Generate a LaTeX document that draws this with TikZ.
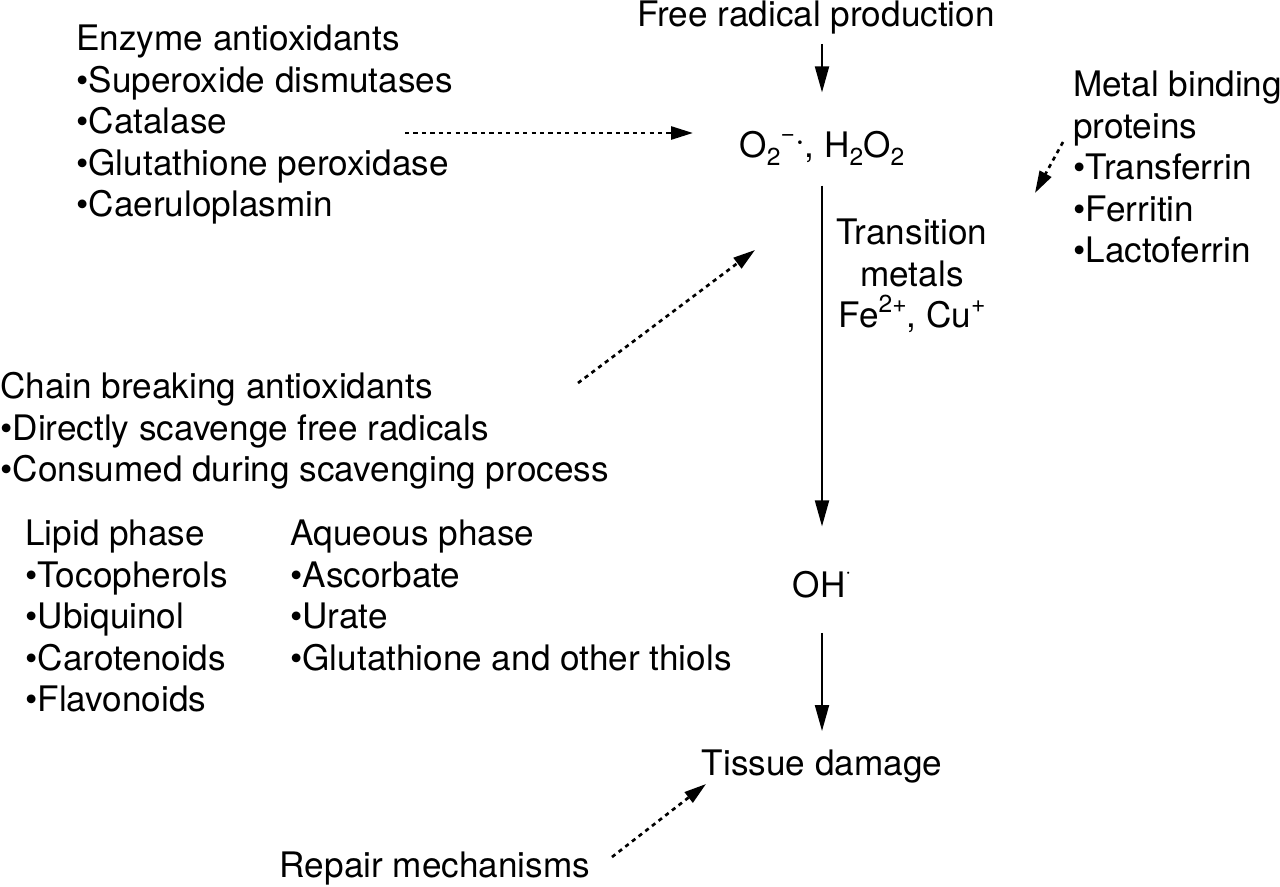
\documentclass[tikz,border=0pt]{standalone}
\usepackage{fontspec}
\setmainfont{TeX Gyre Heros}
\usepackage{tikz}
\usetikzlibrary{arrows.meta,positioning,calc}

\newcommand{\upidx}[1]{\raisebox{0.85ex}{\fontsize{14}{14}\selectfont #1}}
\newcommand{\lowidx}[1]{\raisebox{-0.45ex}{\fontsize{14}{14}\selectfont #1}}

\begin{document}
\begin{tikzpicture}
% Define styles
\tikzstyle{txt} = [inner sep=0pt, font=\fontsize{20}{23.6}\selectfont]
\tikzstyle{list} = [txt, align=left, anchor=north west]
\tikzstyle{species} = [txt, anchor=base]
\tikzstyle{arrow} = [line width=1.1pt, -{Triangle[length=5.2mm,width=2.8mm]}]
\tikzstyle{dotarrow} = [line width=1.5pt, dash pattern=on 2.4pt off 2.4pt, -{Triangle[length=4.4mm,width=2.6mm]}]

\useasboundingbox (0,0) rectangle (25.6,-17.72);

% Main pathway
\node[txt, anchor=north] (free) at (16.32,-0.02) {Free radical production};
\node[species] (o2) at (16.44,-3.14) {O\lowidx{2}\upidx{−}\raisebox{0.3ex}{·}, H\lowidx{2}O\lowidx{2}};
\node[txt, align=center, anchor=north] (metals) at (18.24,-4.38) {Transition\\metals\\ Fe\upidx{2+}, Cu\upidx{+}};
\node[species] (oh) at (16.44,-11.94) {OH\raisebox{1.0ex}{\fontsize{12}{12}\selectfont·}};
\node[species] (tissue) at (16.44,-15.5) {Tissue damage};

% Antioxidant lists
\node[list] (enzyme) at (1.52,-0.5) {Enzyme antioxidants\\•Superoxide dismutases\\•Catalase\\•Glutathione peroxidase\\•Caeruloplasmin};
\node[list] (metal) at (21.46,-1.42) {Metal binding\\proteins\\•Transferrin\\•Ferritin\\•Lactoferrin};
\node[list] (chain) at (0,-7.44) {Chain breaking antioxidants\\•Directly scavenge free radicals\\•Consumed during scavenging process};
\node[list] (lipid) at (0.5,-10.4) {Lipid phase\\•Tocopherols\\•Ubiquinol\\•Carotenoids\\•Flavonoids};
\node[list] (aqueous) at (5.8,-10.4) {Aqueous phase\\•Ascorbate\\•Urate\\•Glutathione and other thiols};
\node[species] (repair) at (8.7,-17.54) {Repair mechanisms};

% Free ends of dotted arrows
\coordinate (enztail) at (8.1,-2.66);
\coordinate (enztip) at (13.86,-2.66);
\coordinate (mettail) at (21.26,-2.84);
\coordinate (mettip) at (20.7,-3.86);
\coordinate (chtail) at (11.56,-7.66);
\coordinate (chtip) at (15.1,-5.0);
\coordinate (reptail) at (12.24,-17.14);
\coordinate (reptip) at (14.12,-15.68);

% Connections
\draw[arrow, shorten <=0.18cm, shorten >=0.76cm] (free.south -| o2) -- (o2.north);
\draw[arrow, shorten <=0.4cm, shorten >=0.88cm] (o2.south) -- (oh.north);
\draw[arrow, shorten <=0.7cm, shorten >=0.36cm] (oh.south) -- (tissue.north);

% Inhibition / repair
\draw[dotarrow] (enztail) -- (enztip);
\draw[dotarrow] (mettail) -- (mettip);
\draw[dotarrow] (chtail) -- (chtip);
\draw[dotarrow] (reptail) -- (reptip);

\end{tikzpicture}
\end{document}
